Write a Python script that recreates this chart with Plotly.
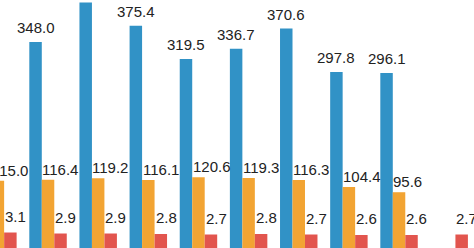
import plotly.graph_objects as go

groups = list(range(10))
blue_vals = [367.9, 348.0, 414.6, 375.4, 319.5, 336.7, 370.6, 297.8, 296.1, None]
orange_vals = [115.0, 116.4, 119.2, 116.1, 120.6, 119.3, 116.3, 104.4, 95.6, None]
red_vals = [3.1, 2.9, 2.9, 2.8, 2.7, 2.8, 2.7, 2.6, 2.6, 2.7]
# labels that fall inside the visible frame of the reference crop
blue_label_shown = [False, True, False, True, True, True, True, True, True, False]

BLUE = "#3192C6"
ORANGE = "#F2A433"
RED = "#E2554E"
FONT = "Liberation Sans Narrow, Liberation Sans, Arial, sans-serif"

bargap = 0.253
w = (1 - bargap) / 3

fig = go.Figure()
fig.add_trace(go.Bar(x=groups, y=blue_vals, marker_color=BLUE, marker_line_width=0,
                     alignmentgroup="g", offsetgroup="b"))
fig.add_trace(go.Bar(x=groups, y=orange_vals, marker_color=ORANGE, marker_line_width=0,
                     alignmentgroup="g", offsetgroup="o"))
fig.add_trace(go.Bar(x=groups, y=red_vals, marker_color=RED, marker_line_width=0,
                     alignmentgroup="g", offsetgroup="r", yaxis="y2"))

ann = []
for g, v, show in zip(groups, blue_vals, blue_label_shown):
    if v is not None and show:
        ann.append(dict(x=g - w, y=v, xref="x", yref="y", text=f"{v:.1f}",
                        xanchor="center", yanchor="bottom", yshift=4, showarrow=False))
for g, v in zip(groups, orange_vals):
    if v is not None:
        # anchored at the orange bar's right edge, shifted back one bar width
        ann.append(dict(x=g + w / 2, y=v, xref="x", yref="y", text=f"{v:.1f}",
                        xanchor="left", yanchor="bottom", yshift=0, xshift=-14,
                        showarrow=False))
for g, v in zip(groups, red_vals):
    ann.append(dict(x=g + w / 2, y=v, xref="x", yref="y2", text=f"{v:.1f}",
                    xanchor="left", yanchor="bottom", yshift=6, xshift=-1, showarrow=False))

fig.update_layout(
    width=474, height=248,
    margin=dict(l=0, r=0, t=0, b=0),
    paper_bgcolor="white", plot_bgcolor="white",
    barmode="group", bargap=bargap, bargroupgap=0,
    showlegend=False,
    font=dict(family=FONT, size=15, color="#222222"),
    xaxis=dict(range=[0.042, 9.495], visible=False, fixedrange=True),
    yaxis=dict(range=[1.85, 418.7], visible=False, fixedrange=True),
    yaxis2=dict(range=[0, 49.6], overlaying="y", visible=False, fixedrange=True),
    annotations=ann,
)

fig.write_html("out.html")
